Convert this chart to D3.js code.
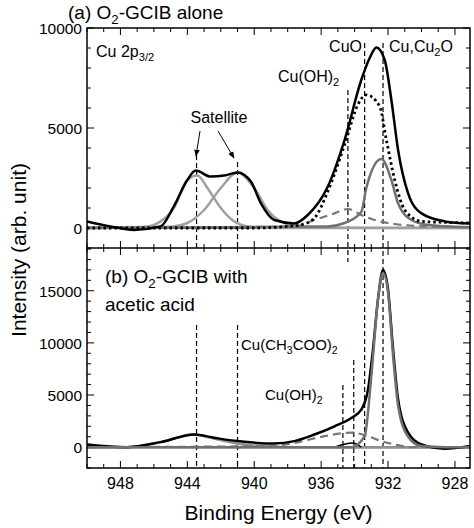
<!DOCTYPE html>
<html><head><meta charset="utf-8">
<script src="https://cdn.jsdelivr.net/npm/d3@7"></script>
<style>body{margin:0;background:#fff}text{font-family:"Liberation Sans",Arial,sans-serif}</style>
</head><body><div id="chart"></div>
<script>
// energies (eV) and intensities, [E, I]
const aTotal = [[950.0,330],[948.6,80],[947.2,-100],[945.6,80],[944.8,1100],[944.0,2400],[943.5,2870],[942.6,2570],[941.8,2620],[941.0,2780],[940.2,2320],[939.6,1230],[938.8,400],[937.6,230],[936.8,650],[935.6,2070],[934.6,4400],[933.6,7400],[933.1,8500],[932.7,9030],[932.2,8400],[931.8,6400],[931.4,3900],[930.8,1730],[930.0,730],[928.6,330],[927.1,220]];
const aOH = [[950.0,0],[940,0],[938,80],[937.2,160],[936.4,500],[935.6,1830],[934.6,4160],[933.8,6170],[933.3,6660],[932.5,6080],[932.1,4400],[931.6,2400],[931.0,900],[930.0,330],[928.5,280],[927.1,250]];
const aBroad = [[950,0],[937.6,80],[936.4,400],[935.2,730],[934.4,950],[933.6,650],[932.8,400],[931.6,200],[929.6,80],[927.1,40]];
const aCu = [[950,0],[935.6,80],[934.6,250],[933.6,800],[933.3,2000],[932.4,3450],[931.8,2400],[931.4,1230],[930.6,400],[929.6,150],[927.6,50],[927.1,40]];
const aSat1 = [[950,0],[946.6,50],[945.6,330],[944.8,1000],[944.0,2400],[943.4,2630],[942.8,2000],[942.0,1000],[941.2,330],[940.0,30],[938,0],[927.1,0]];
const aSat2 = [[950,30],[945,60],[944.0,250],[943.0,900],[942.0,2000],[941.0,2780],[940.0,2000],[939.2,900],[938.4,330],[937.2,80],[935,10],[927.1,0]];

const bTotal = [[950.0,260],[947.6,0],[945.6,480],[943.6,1210],[942.4,900],[941.0,580],[938.8,350],[937.6,580],[936.4,1210],[935.2,2000],[934.2,2800],[933.6,3600],[933.2,5500],[932.9,9400],[932.6,14200],[932.3,17000],[932.0,15100],[931.7,9400],[931.4,4600],[930.8,1400],[930.0,260],[928.6,-150],[927.1,100]];
const bCu = [[950,0],[934.2,0],[933.4,1050],[933.0,6800],[932.6,14200],[932.3,16700],[932.0,14800],[931.7,8800],[931.4,4000],[930.8,1000],[930.0,100],[928.6,0],[927.1,0]];
const bBroad = [[950,0],[939,100],[937.6,400],[935.8,1050],[934.2,1400],[933.2,1050],[932.4,580],[931.6,260],[930.6,0],[927.1,0]];
const bSat = [[950,0],[947.6,0],[945.6,480],[944.6,900],[943.6,1210],[942.6,900],[941.2,400],[939.6,100],[937.6,0],[927.1,0]];
const bOH = [[935.2,0],[934.1,400],[933.6,0]];

const xTicks = [948, 944, 940, 936, 932, 928];
const aYTicks = [0, 5000, 10000];
const bYTicks = [0, 5000, 10000, 15000];
// reference lines: [E, top y, bottom y] in pixels
const vLines = [[943.45,155,248],[941.0,162,248],[934.4,90,262],[933.4,43,468],[932.3,43,468],
                [943.45,325,468],[941.0,325,468],[934.7,385,468],[934.05,360,468]];

const W = 474, H = 528, L = 87, R = 470;
const svg = d3.select("#chart").append("svg").attr("width", W).attr("height", H);
const x = d3.scaleLinear().domain([950, 927.1]).range([L, R]);
const yA = d3.scaleLinear().domain([-1000, 10000]).range([248, 28]);
const yB = d3.scaleLinear().domain([-2000, 19100]).range([468, 248]);

function panel(y, yt, top, bottom, labels) {
  const g = svg.append("g");
  d3.range(928, 951, 1).forEach(e => {
    const len = (e % 4 === 0) ? 7 : 4;
    g.append("line").attr("x1", x(e)).attr("x2", x(e)).attr("y1", bottom).attr("y2", bottom - len).attr("stroke", "#000");
    g.append("line").attr("x1", x(e)).attr("x2", x(e)).attr("y1", top).attr("y2", top + len).attr("stroke", "#000");
  });
  const [y0, y1] = y.domain();
  d3.range(Math.ceil(y0 / 1000) * 1000, y1 + 1, 1000).forEach(v => {
    const len = (v % 5000 === 0) ? 7 : 4;
    g.append("line").attr("x1", L).attr("x2", L + len).attr("y1", y(v)).attr("y2", y(v)).attr("stroke", "#000");
    g.append("line").attr("x1", R).attr("x2", R - len).attr("y1", y(v)).attr("y2", y(v)).attr("stroke", "#000");
  });
  yt.forEach(v => g.append("text").attr("x", L - 5).attr("y", y(v) + 6).attr("text-anchor", "end")
    .attr("font-size", 15.5).text(v));
  if (labels) xTicks.forEach(e => g.append("text").attr("x", x(e)).attr("y", bottom + 21)
    .attr("text-anchor", "middle").attr("font-size", 16).text(e));
}
panel(yA, aYTicks, 28, 248, false);
panel(yB, bYTicks, 248, 468, true);

svg.append("defs").append("clipPath").attr("id", "clip").append("rect")
  .attr("x", L).attr("y", 28).attr("width", R - L).attr("height", 440);
const plot = svg.append("g").attr("clip-path", "url(#clip)");

vLines.forEach(([e, t, b]) => plot.append("line").attr("x1", x(e)).attr("x2", x(e)).attr("y1", t).attr("y2", b)
  .attr("stroke", "#000").attr("stroke-width", 1.2).attr("stroke-dasharray", "5,3"));

function curve(data, y, color, width, dash) {
  const line = d3.line().x(d => x(d[0])).y(d => y(d[1])).curve(d3.curveMonotoneX);
  const p = plot.append("path").datum(data).attr("d", line).attr("fill", "none")
    .attr("stroke", color).attr("stroke-width", width);
  if (dash) p.attr("stroke-dasharray", dash);
}
plot.append("line").attr("x1", L).attr("x2", R).attr("y1", yA(0)).attr("y2", yA(0)).attr("stroke", "#555").attr("stroke-width", 2);
plot.append("line").attr("x1", L).attr("x2", R).attr("y1", yB(0)).attr("y2", yB(0)).attr("stroke", "#000").attr("stroke-width", 2.2);

curve(aSat1, yA, "#a0a0a0", 2.5);
curve(aSat2, yA, "#a0a0a0", 2.5);
curve(aBroad, yA, "#777", 2.2, "8,5");
curve(aCu, yA, "#707070", 2.5);
curve(aOH, yA, "#000", 2.8, "2.5,3");
curve(aTotal, yA, "#000", 2.5);

curve(bSat, yB, "#909090", 2.5);
curve(bBroad, yB, "#777", 2.2, "8,5");
curve(bOH, yB, "#000", 1.5);
curve(bTotal, yB, "#000", 2.5);
curve(bCu, yB, "#707070", 2.5);

svg.append("rect").attr("x", L).attr("y", 28).attr("width", R - L).attr("height", 440)
  .attr("fill", "none").attr("stroke", "#000").attr("stroke-width", 1.5);
svg.append("line").attr("x1", L).attr("x2", R).attr("y1", 248).attr("y2", 248).attr("stroke", "#000").attr("stroke-width", 1.5);

function sub(t, parts, fs) {
  parts.forEach(([s, kind]) => {
    const ts = t.append("tspan").text(s);
    if (kind === "sub") ts.attr("font-size", fs * 0.7).attr("dy", fs * 0.25);
    if (kind === "up") ts.attr("dy", -fs * 0.25);
  });
  return t;
}
sub(svg.append("text").attr("x", 68).attr("y", 19).attr("font-size", 19),
  [["(a) O"], ["2", "sub"], ["-GCIB alone", "up"]], 19);
sub(svg.append("text").attr("x", 96).attr("y", 57).attr("font-size", 16),
  [["Cu 2p"], ["3/2", "sub"]], 16);
svg.append("text").attr("x", 362).attr("y", 52).attr("text-anchor", "end").attr("font-size", 16).text("CuO");
sub(svg.append("text").attr("x", 389).attr("y", 52).attr("font-size", 16),
  [["Cu,Cu"], ["2", "sub"], ["O", "up"]], 16);
sub(svg.append("text").attr("x", 278).attr("y", 82).attr("font-size", 16),
  [["Cu(OH)"], ["2", "sub"]], 16);
svg.append("text").attr("x", 219).attr("y", 123).attr("text-anchor", "middle").attr("font-size", 16).text("Satellite");
const mk = svg.select("defs").append("marker").attr("id", "ar").attr("viewBox", "0 0 10 10").attr("refX", 9).attr("refY", 5)
  .attr("markerWidth", 7).attr("markerHeight", 7).attr("orient", "auto");
mk.append("path").attr("d", "M0,1 L10,5 L0,9 Z").attr("fill", "#000");
[[200, 131, 196, 156], [218, 131, 234, 158]].forEach(([a, b, c, d]) =>
  svg.append("line").attr("x1", a).attr("y1", b).attr("x2", c).attr("y2", d).attr("stroke", "#000").attr("marker-end", "url(#ar)"));

sub(svg.append("text").attr("x", 105).attr("y", 283).attr("font-size", 19),
  [["(b) O"], ["2", "sub"], ["-GCIB with", "up"]], 19);
svg.append("text").attr("x", 105).attr("y", 311).attr("font-size", 19).text("acetic acid");
sub(svg.append("text").attr("x", 241).attr("y", 350).attr("font-size", 15),
  [["Cu(CH"], ["3", "sub"], ["COO)", "up"], ["2", "sub"]], 15);
sub(svg.append("text").attr("x", 265).attr("y", 400).attr("font-size", 15),
  [["Cu(OH)"], ["2", "sub"]], 15);

svg.append("text").attr("x", (L + R) / 2).attr("y", 520).attr("text-anchor", "middle").attr("font-size", 21).text("Binding Energy (eV)");
svg.append("text").attr("transform", "translate(26,250) rotate(-90)").attr("text-anchor", "middle").attr("font-size", 21).text("Intensity (arb. unit)");
</script></body></html>
